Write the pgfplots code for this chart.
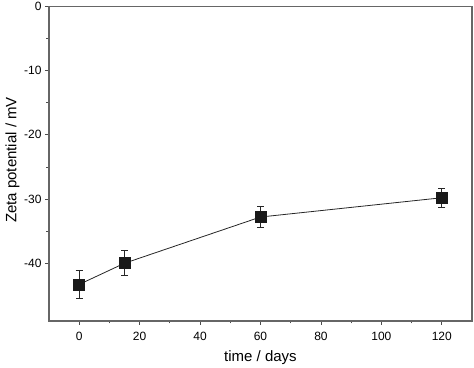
\documentclass[border=0pt]{standalone}
\usepackage{pgfplots}
\pgfplotsset{compat=1.18}
\usepackage{fontspec}
\setmainfont{Liberation Sans}
\begin{document}
\begin{tikzpicture}
\begin{axis}[
  name=ax,
  scale only axis,
  width=423pt, height=314.5pt,
  xmin=-10, xmax=130, ymin=-49, ymax=0,
  xtick={0,20,...,120}, ytick={-40,-30,...,0},
  minor x tick num=1, minor y tick num=1,
  axis line style={black!60, line width=1.2pt},
  every tick/.style={black!70, line width=0.8pt},
  tick align=outside,
  xtick pos=bottom, ytick pos=left,
  major tick length=4pt, minor tick length=2.5pt,
  /pgf/number format/assume math mode=true,
  tick label style={font=\fontsize{12}{14}\selectfont},
  xticklabel style={yshift=-4pt},
  label style={font=\fontsize{15}{17}\selectfont},
  xlabel={time / days}, ylabel={Zeta potential / mV},
  xlabel style={at={(axis description cs:0.5,0)}, anchor=base, yshift=-41pt},
  ylabel style={at={(axis description cs:-0.111,0.512)}, anchor=north},
  clip=false,
]
\addplot[black!85, line width=0.8pt, mark=square*, mark size=5.5pt,
  mark options={fill=black!90, draw=black!90},
  error bars/.cd, y dir=both, y explicit,
  error bar style={black!85, line width=0.8pt},
  error mark options={rotate=90, mark size=3.5pt, black!85, line width=0.8pt}]
  coordinates {
  (0,-43.3) +- (0,2.2)
  (15,-40.0) +- (0,1.95)
  (60,-32.8) +- (0,1.6)
  (120,-29.8) +- (0,1.5)
};
\end{axis}
\pgfresetboundingbox
\path (ax.south west) ++(-49pt,-47pt) coordinate (bl);
\path (ax.north east) ++(2pt,6.5pt) coordinate (tr);
\path (bl) rectangle (tr);
\end{tikzpicture}
\end{document}
